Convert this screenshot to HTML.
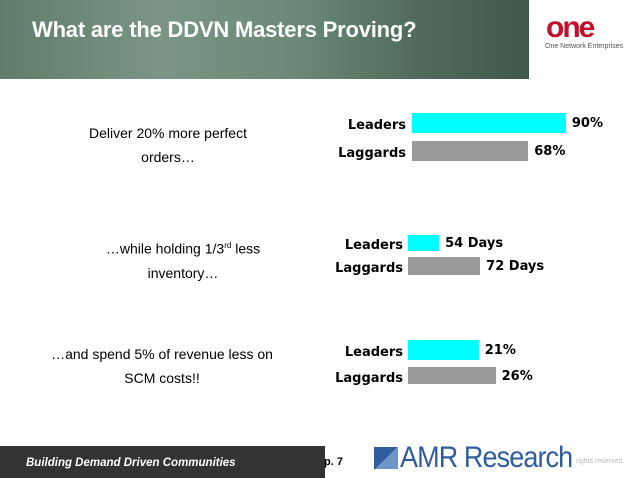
<!DOCTYPE html>
<html><head><meta charset="utf-8"><style>
body{margin:0;width:638px;height:478px;background:#fff;position:relative;overflow:hidden;font-family:"Liberation Sans",sans-serif}
.banner{position:absolute;left:0;top:0;width:529px;height:79px;background:linear-gradient(90deg,#5f7d6b 0%,#7a9585 30%,#6b8a78 55%,#4f6a5a 80%,#3f5a4a 100%)}
.title{position:absolute;left:32px;top:17px;font:bold 22px "Liberation Sans",sans-serif;color:#fff;letter-spacing:-0.2px}
.q{position:absolute;font:14px "Liberation Sans",sans-serif;color:#000;text-align:center;line-height:24px}
.lbl{position:absolute;font:bold 13px "DejaVu Sans",sans-serif;text-align:right;width:120px}
.val{position:absolute;font:bold 13px "DejaVu Sans",sans-serif}
.bar{position:absolute}
.footer{position:absolute;left:0;top:446px;width:325px;height:32px;background:#333}
</style></head><body>
<div class="banner"></div>
<div class="title">What are the DDVN Masters Proving?</div>
<div style="position:absolute;left:546px;top:14px;font:bold 30px 'Liberation Sans',sans-serif;color:#c0102a;letter-spacing:-2px;line-height:28px">one</div>
<div style="position:absolute;left:545px;top:43px;font:7px 'Liberation Sans',sans-serif;color:#555">One Network Enterprises</div>

<div class="q" style="left:63px;top:121px;width:210px">Deliver 20% more perfect<br>orders…</div>
<div class="q" style="left:78px;top:234px;width:210px">…while holding 1/3<sup style="font-size:8px">rd</sup> less<br>inventory…</div>
<div class="q" style="left:27px;top:342px;width:270px">…and spend 5% of revenue less on<br>SCM costs!!</div>

<div id="chart"></div>

<div class="footer"></div>
<div style="position:absolute;left:26px;top:457px;font:italic bold 11.5px 'Liberation Sans',sans-serif;color:#fff">Building Demand Driven Communities</div>
<div style="position:absolute;left:324px;top:456px;font:bold 11px 'Liberation Sans',sans-serif">p. 7</div>
<div style="position:absolute;left:374px;top:447px;width:24px;height:22px;background:linear-gradient(135deg,#2f5d9f 50%,#6e95c8 50%)"></div>
<div style="position:absolute;left:400px;top:441px;font:30px 'Liberation Sans',sans-serif;color:#2f5d9f;letter-spacing:-1px;transform:scaleX(0.9);transform-origin:left">AMR Research</div>
<div style="position:absolute;left:576px;top:458px;font:7px 'Liberation Sans',sans-serif;color:#bbb">rights reserved.</div>

<script>
const groups = ["Perfect orders","Inventory","SCM costs"];
const leaderValues = [90,54,21];
const laggardValues = [68,72,26];
const valueLabels = [["90%","68%"],["54 Days","72 Days"],["21%","26%"]];
const categories = ["Leaders","Laggards"];
// layout (not data)
const layout=[
 {x0:412,k:1.71,off:0,rows:[[113,20],[141,20]],labelRight:406},
 {x0:408,k:2.28,off:-92,rows:[[235,16],[257,18]],labelRight:403},
 {x0:408,k:3.37,off:0,rows:[[340,20],[367,17]],labelRight:403}
];
const colors=["#00ffff","#999999"];
const chart=document.getElementById('chart');
groups.forEach((g,gi)=>{
 const L=layout[gi];
 const vals=[leaderValues[gi],laggardValues[gi]];
 vals.forEach((v,si)=>{
  const [y,h]=L.rows[si];
  const w=Math.max(2,v*L.k+L.off);
  const b=document.createElement('div');b.className='bar';
  
  
  b.style.cssText=`left:${L.x0}px;top:${y}px;width:${w}px;height:${h}px;background:${colors[si]}`;
  chart.appendChild(b);
  const l=document.createElement('div');l.className='lbl';
  
  
  l.textContent=categories[si];
  l.style.left=(L.labelRight-120)+'px';l.style.top=(y+h/2-5)+'px';
  chart.appendChild(l);
  const t=document.createElement('div');t.className='val';
  
  
  t.textContent=valueLabels[gi][si];
  t.style.left=(L.x0+w+6)+'px';t.style.top=(y+h/2-7)+'px';
  chart.appendChild(t);
 });
});
</script>
</body></html>
